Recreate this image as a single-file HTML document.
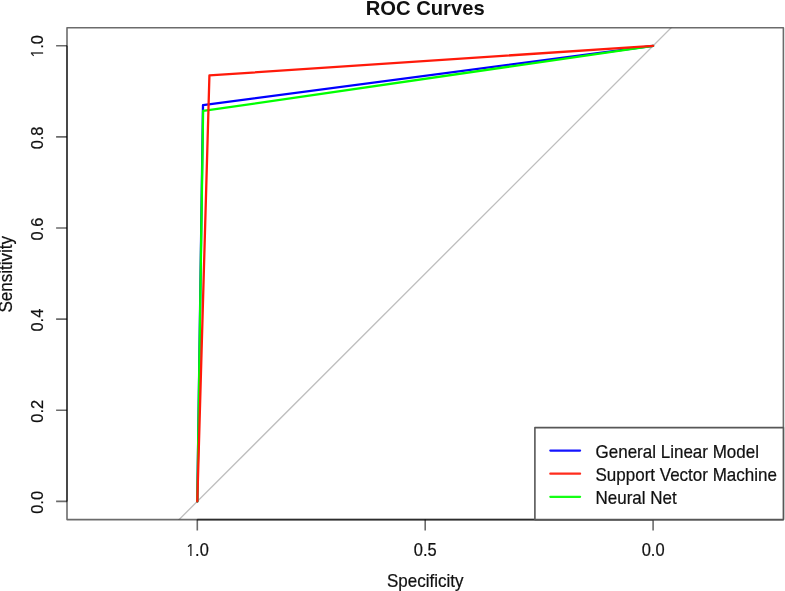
<!DOCTYPE html>
<html><head><meta charset="utf-8"><title>ROC Curves</title>
<style>
html,body{margin:0;padding:0;background:#fff;}
body{width:785px;height:591px;overflow:hidden;}
svg{display:block;font-family:"Liberation Sans",Arial,sans-serif;}
svg text{fill:#111;stroke:#111;stroke-width:0.22px;}
</style></head><body>
<svg width="785" height="591" viewBox="0 0 785 591">
<rect width="785" height="591" fill="#fff"/>
<clipPath id="c"><rect x="67.0" y="27.8" width="716.4" height="491.8"/></clipPath>
<line x1="-258.50" y1="957.00" x2="1108.90" y2="-409.80" stroke="#bebebe" stroke-width="1.3" clip-path="url(#c)"/>
<polyline points="197.30,501.40 203.00,105.03 653.10,45.80" fill="none" stroke="#0000ff" stroke-width="2.3" stroke-linejoin="round" stroke-linecap="round"/>
<polyline points="197.30,501.40 203.09,110.95 653.10,45.80" fill="none" stroke="#00ff00" stroke-width="2.3" stroke-linejoin="round" stroke-linecap="round"/>
<polyline points="197.30,501.40 209.42,75.41 653.10,45.80" fill="none" stroke="#ff1a0a" stroke-width="2.3" stroke-linejoin="round" stroke-linecap="round"/>
<rect x="67.0" y="27.8" width="716.4" height="491.8" fill="none" stroke="#000" stroke-opacity="0.58" stroke-width="1.6" stroke-linejoin="round"/>
<path d="M67.0,45.8V501.4M197.3,519.6H653.1" fill="none" stroke="#000" stroke-opacity="0.58" stroke-width="1.6"/>
<path d="M56.1,501.40H67.0M56.1,410.28H67.0M56.1,319.16H67.0M56.1,228.04H67.0M56.1,136.92H67.0M56.1,45.80H67.0M197.30,519.6V530.4M425.20,519.6V530.4M653.10,519.6V530.4" fill="none" stroke="#000" stroke-opacity="0.58" stroke-width="1.6"/>
<text transform="translate(43.20,502.40) rotate(-90)" text-anchor="middle" font-size="17.4" textLength="22.9" lengthAdjust="spacingAndGlyphs">0.0</text>
<text transform="translate(43.20,411.28) rotate(-90)" text-anchor="middle" font-size="17.4" textLength="22.9" lengthAdjust="spacingAndGlyphs">0.2</text>
<text transform="translate(43.20,320.16) rotate(-90)" text-anchor="middle" font-size="17.4" textLength="22.9" lengthAdjust="spacingAndGlyphs">0.4</text>
<text transform="translate(43.20,229.04) rotate(-90)" text-anchor="middle" font-size="17.4" textLength="22.9" lengthAdjust="spacingAndGlyphs">0.6</text>
<text transform="translate(43.20,137.92) rotate(-90)" text-anchor="middle" font-size="17.4" textLength="22.9" lengthAdjust="spacingAndGlyphs">0.8</text>
<text transform="translate(43.20,46.80) rotate(-90)" text-anchor="middle" font-size="17.4" textLength="22.9" lengthAdjust="spacingAndGlyphs"><tspan style="font-family:NanumGothic,'Liberation Sans',sans-serif;font-size:16.6px">1</tspan>.0</text>
<text x="197.30" y="556.30" text-anchor="middle" font-size="17.8" textLength="22.9" lengthAdjust="spacingAndGlyphs"><tspan style="font-family:NanumGothic,'Liberation Sans',sans-serif;font-size:16.6px">1</tspan>.0</text>
<text x="425.20" y="556.30" text-anchor="middle" font-size="17.8" textLength="22.9" lengthAdjust="spacingAndGlyphs">0.5</text>
<text x="653.10" y="556.30" text-anchor="middle" font-size="17.8" textLength="22.9" lengthAdjust="spacingAndGlyphs">0.0</text>
<text x="425.20" y="586.80" text-anchor="middle" font-size="17.8" textLength="76.53" lengthAdjust="spacingAndGlyphs">Specificity</text>
<text transform="translate(12.30,274.30) rotate(-90)" text-anchor="middle" font-size="17.8" textLength="76.53" lengthAdjust="spacingAndGlyphs">Sensitivity</text>
<text x="425.20" y="14.50" text-anchor="middle" font-size="20.2" font-weight="bold" style="stroke-width:0">ROC Curves</text>
<rect x="534.9" y="427.6" width="248.5" height="92.0" fill="#fff" stroke="#575757" stroke-width="1.6" stroke-linejoin="round"/>
<line x1="550.3" y1="450.60" x2="580.1" y2="450.60" stroke="#0000ff" stroke-width="2.2" stroke-linecap="round" stroke-opacity="0.92"/>
<text x="595.50" y="457.90" font-size="17.8" textLength="163.48" lengthAdjust="spacingAndGlyphs">General Linear Model</text>
<line x1="550.3" y1="473.70" x2="580.1" y2="473.70" stroke="#ff1a0a" stroke-width="2.2" stroke-linecap="round" stroke-opacity="0.92"/>
<text x="595.50" y="481.00" font-size="17.8" textLength="181.45" lengthAdjust="spacingAndGlyphs">Support Vector Machine</text>
<line x1="550.3" y1="496.80" x2="580.1" y2="496.80" stroke="#00ff00" stroke-width="2.2" stroke-linecap="round" stroke-opacity="0.92"/>
<text x="595.50" y="504.10" font-size="17.8" textLength="81.27" lengthAdjust="spacingAndGlyphs">Neural Net</text>
</svg>
</body></html>
